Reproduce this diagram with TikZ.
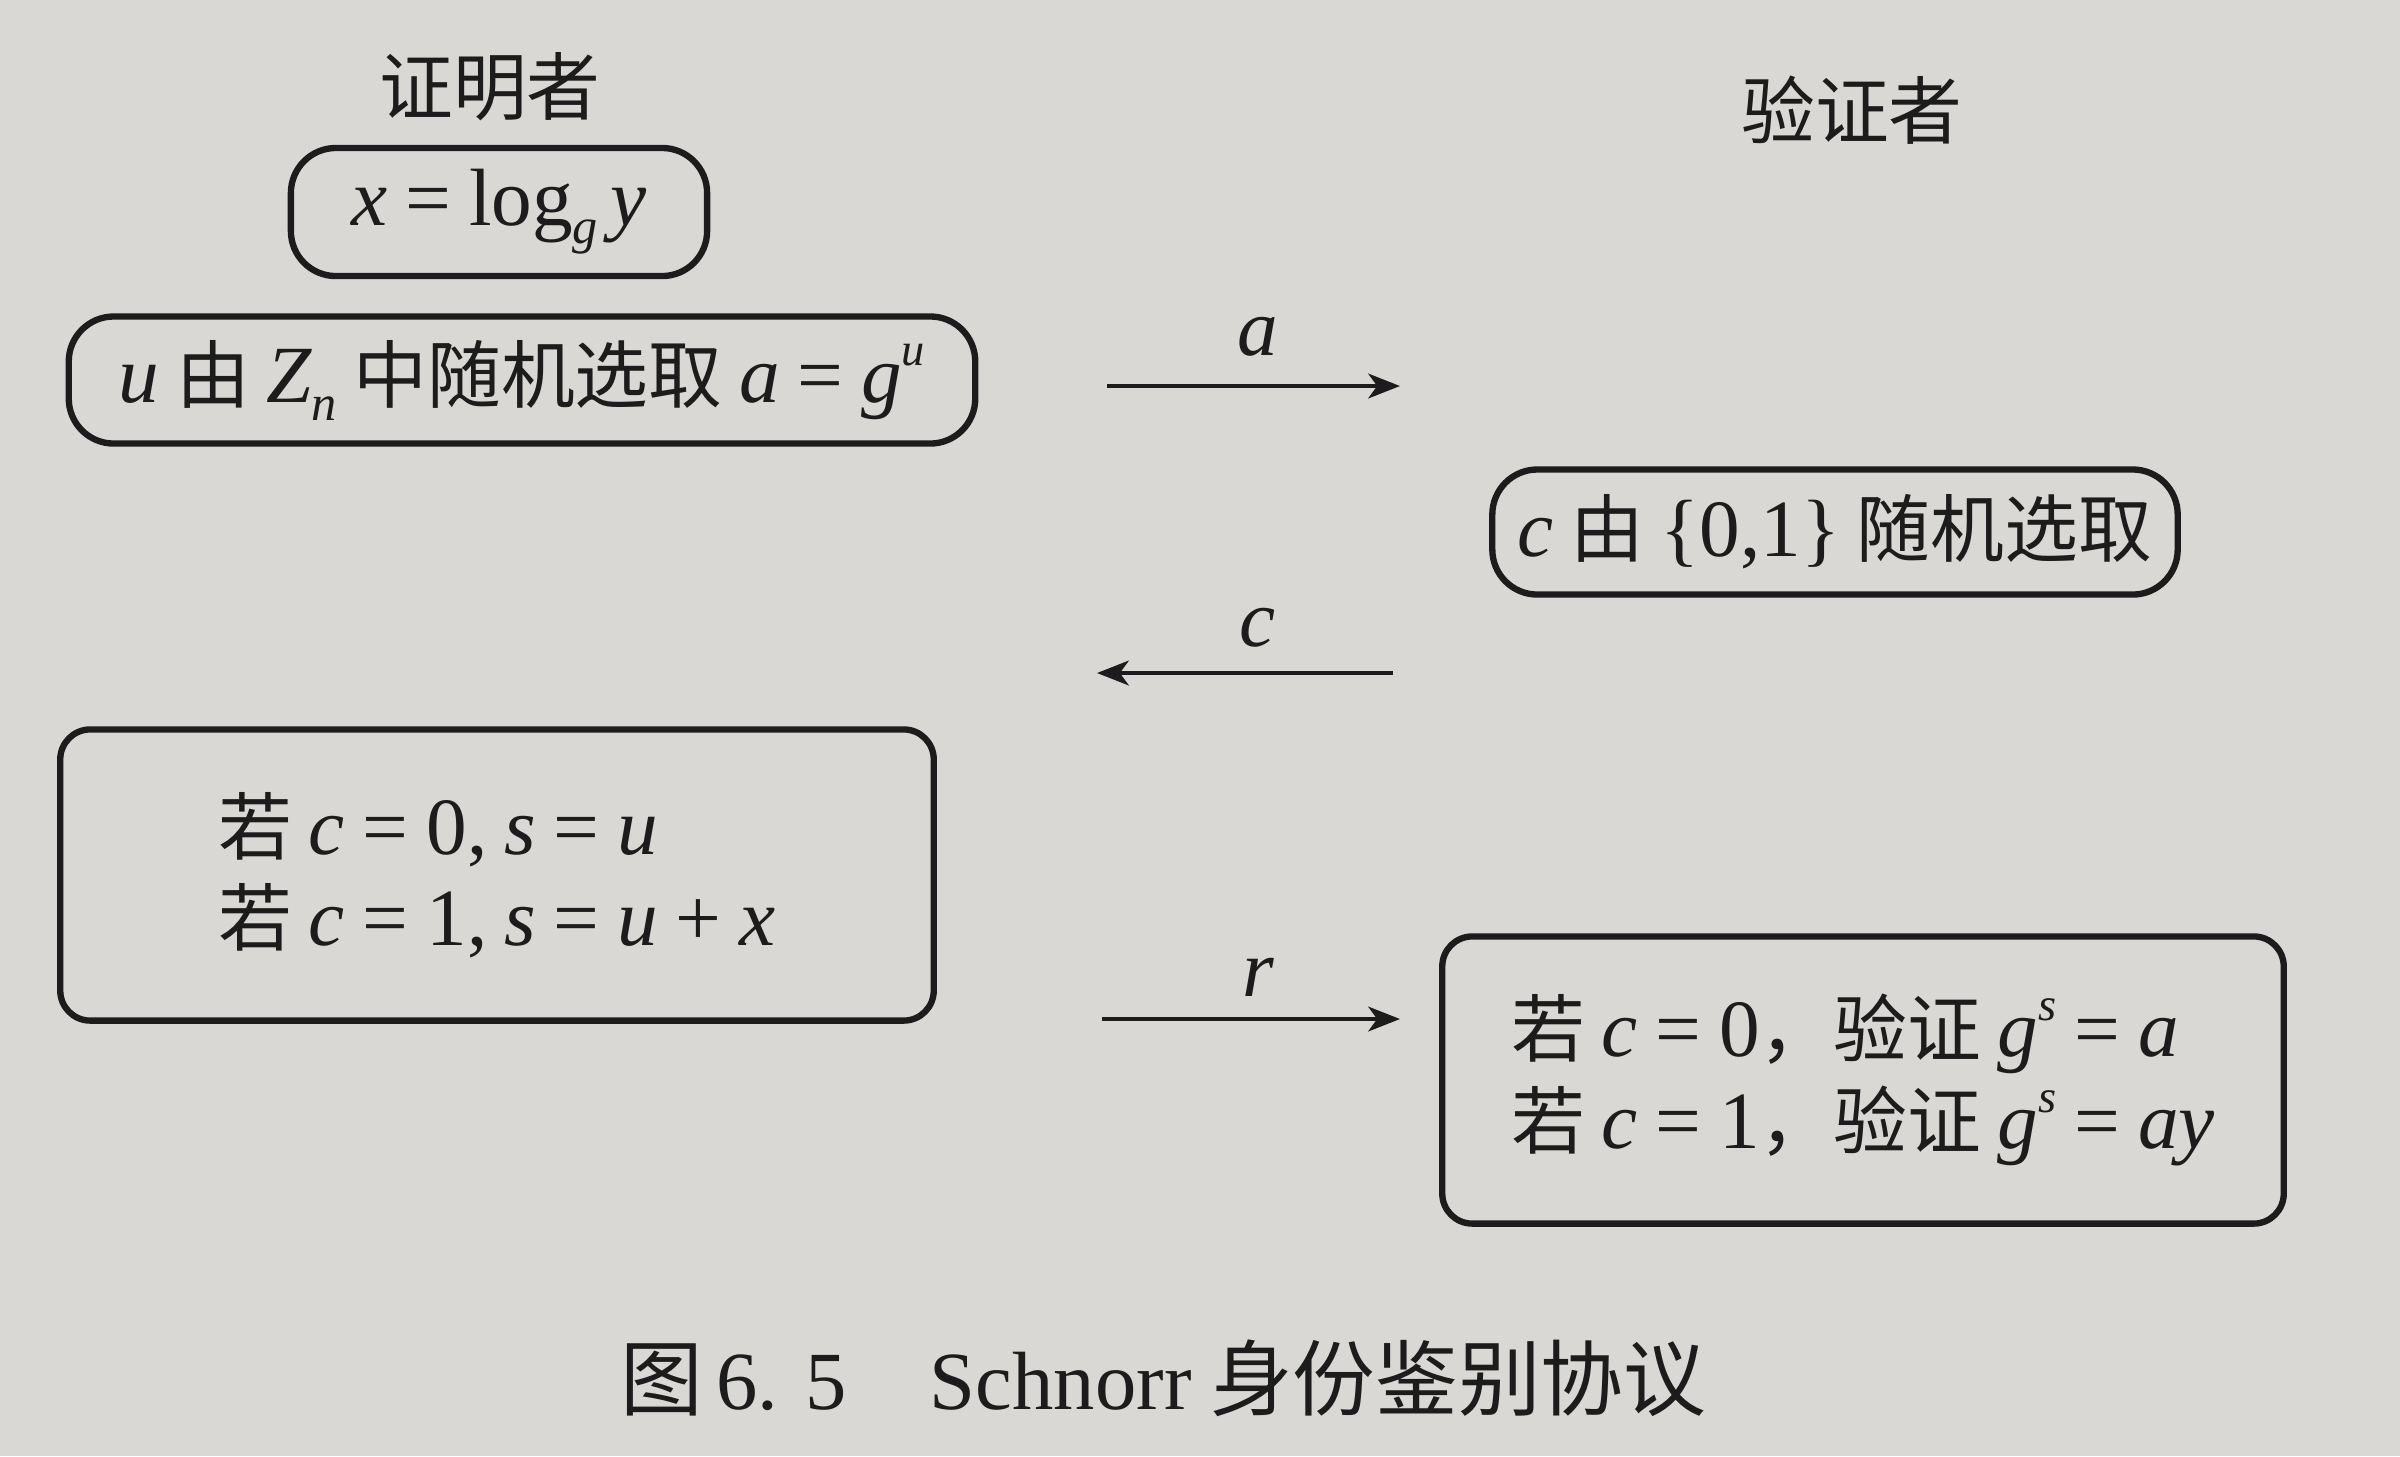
\documentclass[tikz,border=0pt]{standalone}
\usepackage{fontspec}
\setmainfont{Noto Sans CJK SC}
\newfontfamily\lat[Scale=1.1]{Liberation Serif}
\newfontfamily\capl{Liberation Serif}
\usetikzlibrary{arrows.meta}
\definecolor{paper}{RGB}{218,216,212}
\definecolor{ink}{RGB}{28,28,28}
\newcommand{\vi}[1]{{\lat\itshape #1}}
\newcommand{\tn}[1]{{\lat #1}}
\newcommand{\eqs}{{\lat\hspace{0.22em}=\hspace{0.22em}}}
\newcommand{\lowsub}[1]{\raisebox{-0.45ex}{\fontsize{13}{13}\selectfont #1}}
\newcommand{\upsup}[1]{\raisebox{0.9ex}{\fontsize{12}{12}\selectfont #1}}
\tikzset{
  txt/.style={text=ink, font=\fontsize{21}{26}\selectfont, inner sep=0pt},
  pill/.style={txt, draw=ink, line width=1.8pt, rounded corners=0.45cm},
  bigbox/.style={txt, draw=ink, line width=1.8pt, rounded corners=0.3cm, align=left},
  msg/.style={draw=ink, line width=1.3pt, -{Stealth[length=9pt,width=7pt,inset=2.5pt]}},
  lbl/.style={txt}
}
\begin{document}
\begin{tikzpicture}[x=0.01cm,y=-0.01cm]
\fill[paper] (0,0) rectangle (2400,1456);
\useasboundingbox (0,0) rectangle (2400,1456);

\node[txt] (prover) at (490,87) {证明者};
\node[txt] (verifier) at (1852,110) {验证者};

\node[pill, minimum width=4.16cm, minimum height=1.28cm] (b1) at (499,212)
  {\vi{x}\eqs\tn{log}\lowsub{\vi{g}}\,\vi{y}};
\node[pill, minimum width=9.06cm, minimum height=1.27cm] (b2) at (522,380)
  {\vi{u} 由 \vi{Z}\lowsub{\vi{n}} 中随机选取 \vi{a}\eqs\vi{g}\upsup{\vi{u}}};
\node[pill, minimum width=6.85cm, minimum height=1.25cm] (b3) at (1835,532)
  {\vi{c} 由 \tn{\{0,1\}} 随机选取};
\node[bigbox, minimum width=8.73cm, minimum height=2.91cm] (b4) at (497,875)
  {若 \vi{c}\eqs\tn{0,}\ \vi{s}\eqs\vi{u}\\若 \vi{c}\eqs\tn{1,}\ \vi{s}\eqs\vi{u}\tn{\hspace{0.22em}+\hspace{0.22em}}\vi{x}};
\node[bigbox, minimum width=8.41cm, minimum height=2.87cm] (b5) at (1863,1080)
  {若 \vi{c}\eqs\tn{0}，验证 \vi{g}\upsup{\vi{s}}\eqs\vi{a}\\若 \vi{c}\eqs\tn{1}，验证 \vi{g}\upsup{\vi{s}}\eqs\vi{ay}};

\coordinate (a1) at (1107,386);
\coordinate (a2) at (1400,386);
\coordinate (c1) at (1393,673);
\coordinate (c2) at (1097,673);
\coordinate (r1) at (1102,1019);
\coordinate (r2) at (1400,1019);

\draw[msg] (a1) -- (a2);
\draw[msg] (c1) -- (c2);
\draw[msg] (r1) -- (r2);

\node[lbl] (la) at (1258,337) {\vi{a}};
\node[lbl] (lc) at (1258,628) {\vi{c}};
\node[lbl] (lr) at (1258,977) {\vi{r}};

\node[txt, font=\fontsize{23.5}{28}\selectfont] (cap) at (1163,1378)
  {图\,{\capl 6. 5\quad Schnorr} 身份鉴别协议};
\end{tikzpicture}
\end{document}
